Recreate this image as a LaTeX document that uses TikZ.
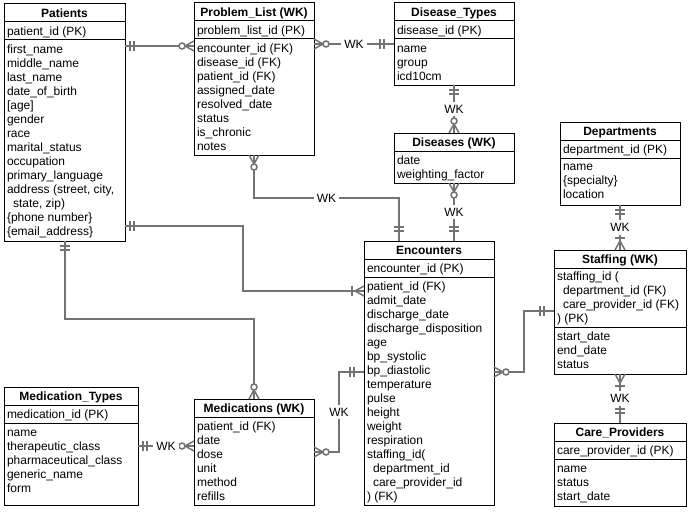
\documentclass[tikz,border=0pt]{standalone}
\usepackage{fontspec}
\setmainfont{Liberation Sans}

% crow's foot ends: two bars, two bars near the box, zero-or-many, one-or-many
\pgfdeclarearrow{
  name = Bars,
  setup code = {\pgfarrowssettipend{0pt}\pgfarrowssetlineend{0pt}%
    \pgfarrowssetbackend{-14pt}\pgfarrowssetvisualbackend{-14pt}},
  drawing code = {%
    \pgfpathmoveto{\pgfqpoint{-10pt}{5pt}}\pgfpathlineto{\pgfqpoint{-10pt}{-5pt}}%
    \pgfpathmoveto{\pgfqpoint{-14pt}{5pt}}\pgfpathlineto{\pgfqpoint{-14pt}{-5pt}}%
    \pgfusepathqstroke}
}
\pgfdeclarearrow{
  name = BarsNear,
  setup code = {\pgfarrowssettipend{0pt}\pgfarrowssetlineend{0pt}%
    \pgfarrowssetbackend{-9pt}\pgfarrowssetvisualbackend{-9pt}},
  drawing code = {%
    \pgfpathmoveto{\pgfqpoint{-5pt}{5pt}}\pgfpathlineto{\pgfqpoint{-5pt}{-5pt}}%
    \pgfpathmoveto{\pgfqpoint{-9pt}{5pt}}\pgfpathlineto{\pgfqpoint{-9pt}{-5pt}}%
    \pgfusepathqstroke}
}
\pgfdeclarearrow{
  name = ZMany,
  setup code = {\pgfarrowssettipend{0pt}\pgfarrowssetlineend{0pt}%
    \pgfarrowssetbackend{-15pt}\pgfarrowssetvisualbackend{-15pt}},
  drawing code = {%
    \pgfsetlinewidth{1.5pt}%
    \pgfpathmoveto{\pgfqpoint{0pt}{5pt}}\pgfpathlineto{\pgfqpoint{-9pt}{0pt}}%
    \pgfpathlineto{\pgfqpoint{0pt}{-5pt}}\pgfusepathqstroke
    \pgfsetfillcolor{white}%
    \pgfpathcircle{\pgfqpoint{-12pt}{0pt}}{3pt}\pgfusepathqfillstroke}
}
\pgfdeclarearrow{
  name = OMany,
  setup code = {\pgfarrowssettipend{0pt}\pgfarrowssetlineend{0pt}%
    \pgfarrowssetbackend{-12pt}\pgfarrowssetvisualbackend{-12pt}},
  drawing code = {%
    \pgfpathmoveto{\pgfqpoint{-12pt}{5pt}}\pgfpathlineto{\pgfqpoint{-12pt}{-5pt}}%
    \pgfusepathqstroke
    \pgfsetlinewidth{1.5pt}%
    \pgfpathmoveto{\pgfqpoint{0pt}{5pt}}\pgfpathlineto{\pgfqpoint{-9pt}{0pt}}%
    \pgfpathlineto{\pgfqpoint{0pt}{-5pt}}\pgfusepathqstroke}
}

\begin{document}
\begin{tikzpicture}[x=1pt, y=-1pt, line width=1pt, font=\fontsize{12}{14}\selectfont,
    ent/.style={draw, anchor=north west, inner sep=0, outer sep=0},
    ttl/.style={font=\fontsize{12}{14}\selectfont\bfseries, inner sep=0, text height=12pt, text depth=3pt},
    fld/.style={anchor=west, inner sep=0, text height=12pt, text depth=3pt},
    rel/.style={draw=black!55, line width=2pt},
    wk/.style={fill=white, inner sep=3pt}]
    \useasboundingbox (0,0) rectangle (692,511);

    % Patients
    \node[ent, minimum width=121, minimum height=237] (pat) at (4,4) {};
    \draw (4,22) -- (125,22) (4,40) -- (125,40);
    \node[ttl] (patT) at (64.5,13) {Patients};
    \node[fld] (patK) at (6.5,31) {patient\_id (PK)};
    \foreach \f [count=\i from 0] in {first\_name, middle\_name, last\_name, date\_of\_birth, [age], gender, race,
        marital\_status, occupation, primary\_language, {address (street, city,}, {\hspace{6pt}state, zip)},
        \{phone number\}, \{email\_address\}}
        \node[fld] (pat\i) at (6.5,49+14*\i) {\f};

    % Problem_List
    \node[ent, minimum width=120, minimum height=152] (prob) at (194,3) {};
    \draw (194,21) -- (314,21) (194,39) -- (314,39);
    \node[ttl] (probT) at (254,12) {Problem\_List (WK)};
    \node[fld] (probK) at (196.5,30) {problem\_list\_id (PK)};
    \foreach \f [count=\i from 0] in {encounter\_id (FK), disease\_id (FK), patient\_id (FK), assigned\_date,
        resolved\_date, status, is\_chronic, notes}
        \node[fld] (prob\i) at (196.5,48+14*\i) {\f};

    % Disease_Types
    \node[ent, minimum width=120, minimum height=82] (dtyp) at (394,3) {};
    \draw (394,21) -- (514,21) (394,39) -- (514,39);
    \node[ttl] (dtypT) at (454,12) {Disease\_Types};
    \node[fld] (dtypK) at (396.5,30) {disease\_id (PK)};
    \foreach \f [count=\i from 0] in {name, group, icd10cm}
        \node[fld] (dtyp\i) at (396.5,48+14*\i) {\f};

    % Diseases
    \node[ent, minimum width=120, minimum height=50] (dis) at (394,133) {};
    \draw (394,151) -- (514,151);
    \node[ttl] (disT) at (454,142) {Diseases (WK)};
    \foreach \f [count=\i from 0] in {date, weighting\_factor}
        \node[fld] (dis\i) at (396.5,160+14*\i) {\f};

    % Departments
    \node[ent, minimum width=120, minimum height=83] (dept) at (560,122) {};
    \draw (560,140) -- (680,140) (560,158) -- (680,158);
    \node[ttl] (deptT) at (620,131) {Departments};
    \node[fld] (deptK) at (562.5,149) {department\_id (PK)};
    \foreach \f [count=\i from 0] in {name, \{specialty\}, location}
        \node[fld] (dept\i) at (562.5,166+14*\i) {\f};

    % Staffing
    \node[ent, minimum width=132, minimum height=124] (staff) at (554,250) {};
    \draw (554,268) -- (686,268) (554,327) -- (686,327);
    \node[ttl] (staffT) at (620,259) {Staffing (WK)};
    \foreach \f [count=\i from 0] in {staffing\_id (, \hspace{6pt}department\_id (FK),
        \hspace{6pt}care\_provider\_id (FK), ) (PK)}
        \node[fld] (staffK\i) at (556.5,276+14*\i) {\f};
    \foreach \f [count=\i from 0] in {start\_date, end\_date, status}
        \node[fld] (staff\i) at (556.5,336+14*\i) {\f};

    % Care_Providers
    \node[ent, minimum width=132, minimum height=83] (care) at (554,423) {};
    \draw (554,441) -- (686,441) (554,459) -- (686,459);
    \node[ttl] (careT) at (620,432) {Care\_Providers};
    \node[fld] (careK) at (556.5,450) {care\_provider\_id (PK)};
    \foreach \f [count=\i from 0] in {name, status, start\_date}
        \node[fld] (care\i) at (556.5,468+14*\i) {\f};

    % Encounters
    \node[ent, minimum width=130, minimum height=264] (enc) at (364,241) {};
    \draw (364,259) -- (494,259) (364,277) -- (494,277);
    \node[ttl] (encT) at (429,250) {Encounters};
    \node[fld] (encK) at (366.5,268) {encounter\_id (PK)};
    \foreach \f [count=\i from 0] in {patient\_id (FK), admit\_date, discharge\_date, discharge\_disposition, age,
        bp\_systolic, bp\_diastolic, temperature, pulse, height, weight, respiration, staffing\_id(,
        \hspace{6pt}department\_id, \hspace{6pt}care\_provider\_id, ) (FK)}
        \node[fld] (enc\i) at (366.5,286+14*\i) {\f};

    % Medication_Types
    \node[ent, minimum width=134, minimum height=118] (mtyp) at (4,387) {};
    \draw (4,405) -- (138,405) (4,423) -- (138,423);
    \node[ttl] (mtypT) at (71,396) {Medication\_Types};
    \node[fld] (mtypK) at (6.5,414) {medication\_id (PK)};
    \foreach \f [count=\i from 0] in {name, therapeutic\_class, pharmaceutical\_class, generic\_name, form}
        \node[fld] (mtyp\i) at (6.5,432+14*\i) {\f};

    % Medications
    \node[ent, minimum width=120, minimum height=106] (med) at (194,399) {};
    \draw (194,417) -- (314,417);
    \node[ttl] (medT) at (254,408) {Medications (WK)};
    \foreach \f [count=\i from 0] in {patient\_id (FK), date, dose, unit, method, refills}
        \node[fld] (med\i) at (196.5,426+14*\i) {\f};

    % Relationships
    \draw[rel, {BarsNear}-{ZMany}] (pat.east |- 0,46) -- (prob.west |- 0,46);
    \draw[rel, {ZMany}-{Bars}] (prob.east |- 0,44) -- node[wk] (wk1) {WK} (dtyp.west |- 0,44);
    \draw[rel, {BarsNear}-{ZMany}] (dtyp.south) -- node[wk] (wk2) {WK} (dis.north);
    \draw[rel, {ZMany}-{Bars}] (dis.south) -- node[wk] (wk3) {WK} (dis.south |- enc.north);
    \draw[rel, {ZMany}-{Bars}] (prob.south) |- node[wk, pos=.75] (wk4) {WK} (399,198) -- (enc.north -| 399,0);
    \draw[rel, {BarsNear}-{OMany}] (pat.east |- 0,226) -| (243,291) -- (enc.west |- 0,291);
    \draw[rel, {BarsNear}-{ZMany}] (pat.south) |- (med.north |- 0,319) -- (med.north);
    \draw[rel, {BarsNear}-{ZMany}] (mtyp.east |- 0,446) -- node[wk] (wk5) {WK} (med.west |- 0,446);
    \draw[rel, {ZMany}-{Bars}] (med.east |- 0,452) -| node[wk, pos=.75] (wk6) {WK} (339,372) -- (enc.west |- 0,372);
    \draw[rel, {ZMany}-{Bars}] (enc.east |- 0,372) -| (524,311) -- (staff.west |- 0,311);
    \draw[rel, {BarsNear}-{OMany}] (dept.south) -- node[wk] (wk7) {WK} (staff.north);
    \draw[rel, {OMany}-{Bars}] (staff.south) -- node[wk] (wk8) {WK} (care.north);
\end{tikzpicture}
\end{document}
